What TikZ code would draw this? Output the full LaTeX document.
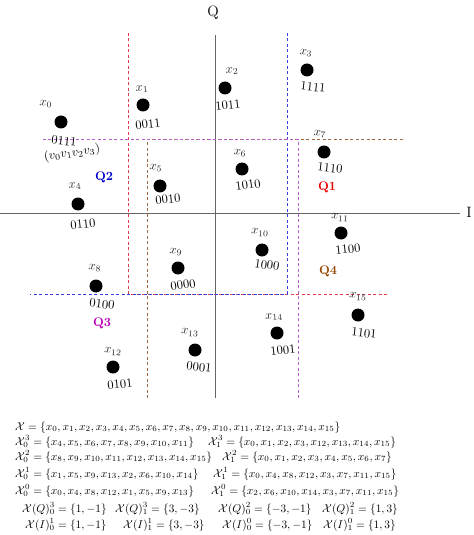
\documentclass[tikz,border=0pt]{standalone}
\usepackage{amsmath}
\definecolor{pred}{RGB}{222,60,80}
\definecolor{pblue}{RGB}{60,60,220}
\definecolor{pbrown}{RGB}{160,105,65}
\definecolor{pviolet}{RGB}{185,95,205}
\definecolor{qred}{RGB}{230,0,0}
\definecolor{qblue}{RGB}{0,0,205}
\definecolor{qmag}{RGB}{185,0,185}
\definecolor{qbrown}{RGB}{150,70,0}
\begin{document}
\begin{tikzpicture}[x=0.8pt,y=-0.8pt,
  dot/.style={circle,fill=black,inner sep=0pt,minimum size=10.4pt},
  code/.style={inner sep=0pt},
  lab/.style={inner sep=0pt,text=black!85},
  part/.style={line width=0.6pt,dash pattern=on 2.4pt off 2pt},
  ax/.style={line width=0.5pt,draw=black!60},
  quad/.style={inner sep=0pt,font=\bfseries},
  eq/.style={anchor=base west,inner sep=0pt,scale=0.91}]
\useasboundingbox (0,0) rectangle (474,535);
% axes
\coordinate (qtop) at (215,35);
\coordinate (qbot) at (215,398);
\coordinate (ileft) at (0,213);
\coordinate (iright) at (460,213);
\draw[ax] (qtop) -- (qbot);
\draw[ax] (ileft) -- (iright);
\node[inner sep=0pt] (Q) at (213,13) {\large Q};
\node[inner sep=0pt] (I) at (469,212) {\large I};
% partition lines
\coordinate (r1) at (128,33); \coordinate (r2) at (128,294); \coordinate (r3) at (387,294);
\coordinate (b1) at (287,33); \coordinate (b2) at (287,294); \coordinate (b3) at (30,294);
\coordinate (w1) at (147,398); \coordinate (w2) at (147,139); \coordinate (w3) at (405,139);
\coordinate (v1) at (298,398); \coordinate (v2) at (298,139); \coordinate (v3) at (40,139);
\draw[part,pred] (r1) -- (r2) -- (r3);
\draw[part,pblue] (b1) -- (b2) -- (b3);
\draw[part,pbrown] (w1) -- (w2) -- (w3);
\draw[part,pviolet] (v1) -- (v2) -- (v3);
% points
\node[dot] (p0) at (61,122) {};
\node[lab,rotate=-5] (l0) at (46,104) {$x_0$};
\node[code,rotate=-6] (c0) at (64,141) {0111};
\node[code,rotate=8] (v0) at (72,153) {$(v_0v_1v_2v_3)$};
\node[dot] (p1) at (143,105) {};
\node[lab,rotate=5] (l1) at (142,89) {$x_1$};
\node[code,rotate=6] (c1) at (148,124) {0011};
\node[dot] (p2) at (225,88) {};
\node[lab,rotate=5] (l2) at (232,71) {$x_2$};
\node[code,rotate=6] (c2) at (228,105) {1011};
\node[dot] (p3) at (307,70) {};
\node[lab,rotate=-5] (l3) at (306,53) {$x_3$};
\node[code,rotate=-6] (c3) at (313,87) {1111};
\node[dot] (p4) at (78,204) {};
\node[lab,rotate=5] (l4) at (75,186) {$x_4$};
\node[code,rotate=6] (c4) at (83,224) {0110};
\node[dot] (p5) at (160,186) {};
\node[lab,rotate=-5] (l5) at (156,168) {$x_5$};
\node[code,rotate=6] (c5) at (168,199) {0010};
\node[dot] (p6) at (242,169) {};
\node[lab,rotate=-5] (l6) at (240,153) {$x_6$};
\node[code,rotate=8] (c6) at (248,185) {1010};
\node[dot] (p7) at (324,152) {};
\node[lab,rotate=-5] (l7) at (320,134) {$x_7$};
\node[code,rotate=-6] (c7) at (330,168) {1110};
\node[dot] (p8) at (96,286) {};
\node[lab,rotate=-5] (l8) at (95,268) {$x_8$};
\node[code,rotate=-6] (c8) at (102,304) {0100};
\node[dot] (p9) at (178,268) {};
\node[lab,rotate=-5] (l9) at (176,252) {$x_9$};
\node[code,rotate=8] (c9) at (183,285) {0000};
\node[dot] (p10) at (262,250) {};
\node[lab,rotate=-5] (l10) at (260,233) {$x_{10}$};
\node[code,rotate=-8] (c10) at (267,265) {1000};
\node[dot] (p11) at (341,233) {};
\node[lab,rotate=-5] (l11) at (340,218) {$x_{11}$};
\node[code,rotate=6] (c11) at (348,249) {1100};
\node[dot] (p12) at (113,367) {};
\node[lab,rotate=-5] (l12) at (113,352) {$x_{12}$};
\node[code,rotate=6] (c12) at (120,384) {0101};
\node[dot] (p13) at (195,350) {};
\node[lab,rotate=-5] (l13) at (190,333) {$x_{13}$};
\node[code,rotate=-6] (c13) at (199,367) {0001};
\node[dot] (p14) at (277,333) {};
\node[lab,rotate=5] (l14) at (274,317) {$x_{14}$};
\node[code,rotate=6] (c14) at (283,350) {1001};
\node[dot] (p15) at (358,315) {};
\node[lab,rotate=-5] (l15) at (358,297) {$x_{15}$};
\node[code,rotate=-6] (c15) at (364,333) {1101};
% quadrant names
\node[quad,text=qred] (q1) at (327,187) {Q1};
\node[quad,text=qblue] (q2) at (104,177) {Q2};
\node[quad,text=qmag] (q3) at (102,323) {Q3};
\node[quad,text=qbrown] (q4) at (328,271) {Q4};
% equations
\node[eq] (e1) at (15,430) {$\mathcal{X}=\{x_0,x_1,x_2,x_3,x_4,x_5,x_6,x_7,x_8,x_9,x_{10},x_{11},x_{12},x_{13},x_{14},x_{15}\}$};
\node[eq] (e2a) at (15,445) {$\mathcal{X}_0^3=\{x_4,x_5,x_6,x_7,x_8,x_9,x_{10},x_{11}\}$};
\node[eq] (e2b) at (208,445) {$\mathcal{X}_1^3=\{x_0,x_1,x_2,x_3,x_{12},x_{13},x_{14},x_{15}\}$};
\node[eq] (e3a) at (15,460) {$\mathcal{X}_0^2=\{x_8,x_9,x_{10},x_{11},x_{12},x_{13},x_{14},x_{15}\}$};
\node[eq] (e3b) at (222,460) {$\mathcal{X}_1^2=\{x_0,x_1,x_2,x_3,x_4,x_5,x_6,x_7\}$};
\node[eq] (e4a) at (15,477) {$\mathcal{X}_0^1=\{x_1,x_5,x_9,x_{13},x_2,x_6,x_{10},x_{14}\}$};
\node[eq] (e4b) at (213,477) {$\mathcal{X}_1^1=\{x_0,x_4,x_8,x_{12},x_3,x_7,x_{11},x_{15}\}$};
\node[eq] (e5a) at (15,494) {$\mathcal{X}_0^0=\{x_0,x_4,x_8,x_{12},x_1,x_5,x_9,x_{13}\}$};
\node[eq] (e5b) at (211,494) {$\mathcal{X}_1^0=\{x_2,x_6,x_{10},x_{14},x_3,x_7,x_{11},x_{15}\}$};
\node[eq] (e6a) at (22,512) {$\mathcal{X}(Q)_0^3=\{1,-1\}$};
\node[eq] (e6b) at (115,512) {$\mathcal{X}(Q)_1^3=\{3,-3\}$};
\node[eq] (e6c) at (218,512) {$\mathcal{X}(Q)_0^2=\{-3,-1\}$};
\node[eq] (e6d) at (322,512) {$\mathcal{X}(Q)_1^2=\{1,3\}$};
\node[eq] (e7a) at (25,528) {$\mathcal{X}(I)_0^1=\{1,-1\}$};
\node[eq] (e7b) at (123,528) {$\mathcal{X}(I)_1^1=\{3,-3\}$};
\node[eq] (e7c) at (222,528) {$\mathcal{X}(I)_0^0=\{-3,-1\}$};
\node[eq] (e7d) at (323,528) {$\mathcal{X}(I)_1^0=\{1,3\}$};
\end{tikzpicture}
\end{document}
